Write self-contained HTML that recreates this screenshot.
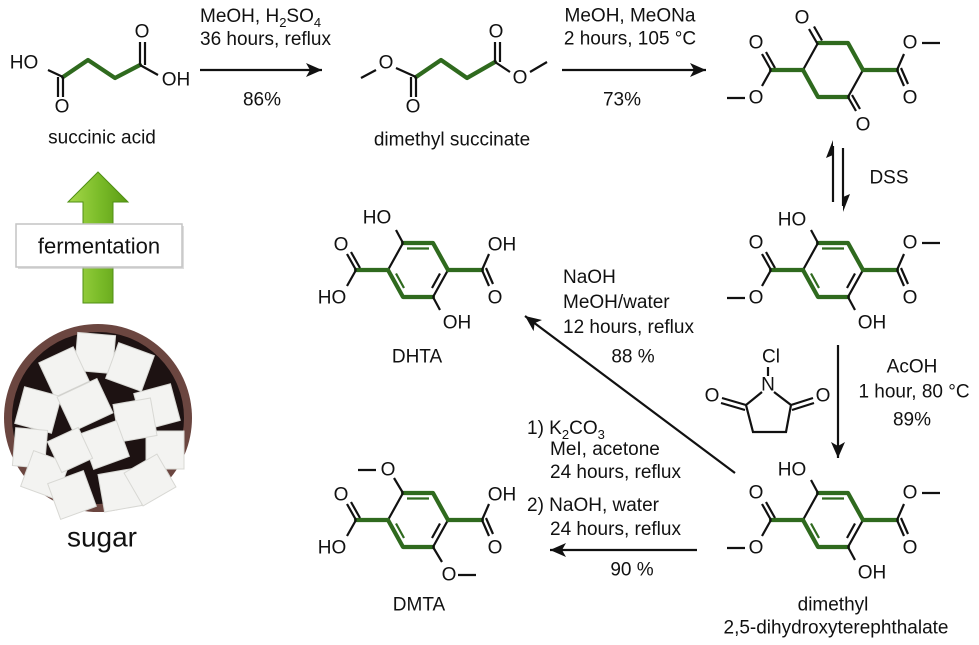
<!DOCTYPE html>
<html><head><meta charset="utf-8"><style>
html,body{margin:0;padding:0;background:#fff;}
svg{display:block;}
text{font-family:"Liberation Sans",Arial,sans-serif;font-size:19px;fill:#111;}
.a{text-anchor:middle;dominant-baseline:central;}
.k{stroke:#111;stroke-width:2.2;fill:none;stroke-linecap:butt;}
.g{stroke:#2f6a1e;stroke-width:4.2;fill:none;stroke-linecap:round;stroke-linejoin:round;}
.gi{stroke:#2f6a1e;stroke-width:2.2;fill:none;}
.cube{fill:#f3f3f1;stroke:#d8d8d4;stroke-width:1;}
</style></head><body>
<svg width="979" height="645" viewBox="0 0 979 645" xmlns="http://www.w3.org/2000/svg">
<defs>
<marker id="ah" markerWidth="18" markerHeight="14" refX="16" refY="7" orient="auto" markerUnits="userSpaceOnUse">
<path d="M0,0 L16,7 L0,14 L4,7 Z" fill="#111"/></marker>
<linearGradient id="gg" x1="0" x2="1" y1="0" y2="0">
<stop offset="0" stop-color="#a6d84a"/><stop offset="0.5" stop-color="#7cbd2a"/><stop offset="1" stop-color="#5b9c14"/></linearGradient>
<g id="ring">
<path class="g" d="M-15,-27 L15,-27 L30,0 M-30,0 L-15,27 L15,27"/>
<path class="k" d="M-30,0 L-15,-27 M30,0 L15,27"/>
</g>
<g id="arom">
<use href="#ring"/>
<path class="gi" d="M-11,-21.5 L11,-21.5 M-22,3.5 L-14,18"/>
<path class="k" d="M22,3.5 L14,18"/>
</g>
<g id="esters">
<path class="g" d="M-30,0 L-62,0 M30,0 L64,0"/>
<path class="k" d="M-62,0 L-71,-16 M-58,-2 L-67,-18 M-62,0 L-71,16 M-106,28 L-88,28 M64,0 L71,16 M68,-2 L75,14 M64,0 L71,-16 M89,-27 L107,-27"/>
<text class="a" x="-77" y="-27">O</text><text class="a" x="-77" y="28">O</text>
<text class="a" x="77" y="28">O</text><text class="a" x="77" y="-27">O</text>
</g>
<g id="hq">
<use href="#arom"/><use href="#esters"/>
<path class="k" d="M-15,-27 L-22,-40 M15,27 L22,40"/>
<text class="a" x="-41" y="-50">HO</text><text class="a" x="39" y="53">OH</text>
</g>
<g id="acids">
<use href="#arom"/>
<path class="g" d="M-30,0 L-62,0 M30,0 L64,0"/>
<path class="k" d="M-62,0 L-71,-16 M-58,-2 L-67,-18 M-62,0 L-71,16 M64,0 L71,16 M68,-2 L75,14 M64,0 L71,-16"/>
<text class="a" x="-77" y="-25">O</text><text class="a" x="-86" y="28">HO</text>
<text class="a" x="77" y="28">O</text><text class="a" x="84" y="-25">OH</text>
</g>
</defs>

<!-- succinic acid -->
<path class="g" d="M63,77 L88,60 L115,78 L140,65"/>
<path class="k" d="M63,77 L48,70 M63,77 L63,97 M58,77 L58,97 M140,65 L140,42 M145,65 L145,42 M140,65 L158,75"/>
<text class="a" x="24" y="63">HO</text><text class="a" x="62" y="107">O</text>
<text class="a" x="142" y="32">O</text><text class="a" x="176" y="80">OH</text>
<text class="a" x="102" y="138">succinic acid</text>

<line class="k" x1="200" y1="70" x2="322" y2="70" marker-end="url(#ah)"/>
<text x="200" y="22">MeOH, H<tspan font-size="13" dy="5">2</tspan><tspan dy="-5">SO</tspan><tspan font-size="13" dy="5">4</tspan></text>
<text x="200" y="45">36 hours, reflux</text>
<text class="a" x="262" y="100">86%</text>

<!-- dimethyl succinate -->
<path class="g" d="M416,77 L441,60 L467,78 L495,62"/>
<path class="k" d="M361,78 L376,70 M396,68 L416,77 M416,77 L416,97 M411,77 L411,97 M495,62 L495,42 M500,62 L500,42 M495,62 L510,72 M530,72 L547,62"/>
<text class="a" x="386" y="63">O</text><text class="a" x="413" y="107">O</text>
<text class="a" x="496" y="32">O</text><text class="a" x="520" y="78">O</text>
<text class="a" x="452" y="140">dimethyl succinate</text>

<line class="k" x1="562" y1="70" x2="706" y2="70" marker-end="url(#ah)"/>
<text class="a" x="630" y="16">MeOH, MeONa</text>
<text class="a" x="630" y="39">2 hours, 105 °C</text>
<text class="a" x="622" y="100">73%</text>

<!-- diketone -->
<g transform="translate(833,70)">
<use href="#ring"/><use href="#esters"/>
<path class="k" d="M-16,-27 L-24,-41 M-11,-29.5 L-19,-43.5 M15,27 L23,41 M19,25 L27,39"/>
<text class="a" x="-31" y="-52">O</text><text class="a" x="30" y="55">O</text>
</g>

<!-- equilibrium -->
<path class="k" d="M833,202 L833,146"/><path d="M833,140 L826,158 L833,155 Z" fill="#111"/>
<path class="k" d="M843,148 L843,206"/><path d="M843,212 L850,194 L843,197 Z" fill="#111"/>
<text class="a" x="889" y="178">DSS</text>

<g transform="translate(833,270)"><use href="#hq"/></g>
<g transform="translate(833,520)"><use href="#hq"/></g>
<text class="a" x="833" y="605">dimethyl</text>
<text class="a" x="836" y="628">2,5-dihydroxyterephthalate</text>

<!-- down arrow -->
<line class="k" x1="838" y1="345" x2="838" y2="458" marker-end="url(#ah)"/>
<text class="a" x="912" y="367">AcOH</text>
<text class="a" x="914" y="392">1 hour, 80 °C</text>
<text class="a" x="912" y="420">89%</text>

<!-- NCS -->
<path class="k" d="M762,392 L746,405 L753,432 L786,432 L791,405 L774,392 M768,367 L768,376 M746,405 L722,398 M745,410 L721,403 M791,405 L813,398 M792,410 L814,403"/>
<text class="a" x="771" y="357">Cl</text><text class="a" x="768" y="385">N</text>
<text class="a" x="712" y="396">O</text><text class="a" x="823" y="396">O</text>

<!-- DHTA -->
<g transform="translate(418,270)">
<use href="#acids"/>
<path class="k" d="M-15,-27 L-22,-40 M15,27 L22,40"/>
<text class="a" x="-41" y="-52">HO</text><text class="a" x="39" y="53">OH</text>
</g>
<text class="a" x="417" y="357">DHTA</text>

<line class="k" x1="735" y1="473" x2="525" y2="316" marker-end="url(#ah)"/>
<text x="563" y="283">NaOH</text>
<text x="563" y="308">MeOH/water</text>
<text x="563" y="333">12 hours, reflux</text>
<text class="a" x="633" y="357">88 %</text>

<!-- DMTA -->
<g transform="translate(418,520)">
<use href="#acids"/>
<path class="k" d="M-15,-27 L-24,-42 M15,27 L24,42 M-60,-50 L-42,-50 M40,55 L58,55"/>
<text class="a" x="-30" y="-50">O</text><text class="a" x="31" y="55">O</text>
</g>
<text class="a" x="419" y="605">DMTA</text>

<line class="k" x1="697" y1="550" x2="550" y2="550" marker-end="url(#ah)"/>
<text x="527" y="434">1) K<tspan font-size="13" dy="5">2</tspan><tspan dy="-5">CO</tspan><tspan font-size="13" dy="5">3</tspan></text>
<text x="550" y="455">MeI, acetone</text>
<text x="550" y="478">24 hours, reflux</text>
<text x="527" y="511">2) NaOH, water</text>
<text x="550" y="535">24 hours, reflux</text>
<text class="a" x="632" y="570">90 %</text>

<!-- green arrow -->
<polygon points="98,172 128,202 113,202 113,303 83,303 83,202 68,202" fill="url(#gg)" stroke="#4f8f14" stroke-width="1"/>
<rect x="18" y="226" width="166" height="43" fill="#bbb" opacity="0.5"/>
<rect x="16" y="224" width="166" height="43" fill="#fff" stroke="#c4c4c4" stroke-width="1.5"/>
<text class="a" x="99" y="246" style="font-size:22px">fermentation</text>

<!-- sugar bowl -->
<circle cx="98" cy="418" r="94" fill="#6b4640"/>
<circle cx="98" cy="418" r="86" fill="#1d1212"/>
<g>
<rect class="cube" x="-19" y="-19" width="38" height="38" transform="translate(95,353) rotate(5)"/>
<rect class="cube" x="-19" y="-19" width="38" height="38" transform="translate(130,367) rotate(20)"/>
<rect class="cube" x="-19" y="-19" width="38" height="38" transform="translate(64,372) rotate(-25)"/>
<rect class="cube" x="-19" y="-19" width="38" height="38" transform="translate(38,410) rotate(15)"/>
<rect class="cube" x="-19" y="-19" width="38" height="38" transform="translate(157,407) rotate(-15)"/>
<rect class="cube" x="-16" y="-19" width="32" height="38" transform="translate(30,448) rotate(5)"/>
<rect class="cube" x="-19" y="-19" width="38" height="38" transform="translate(165,450) rotate(0)"/>
<rect class="cube" x="-19" y="-19" width="38" height="38" transform="translate(45,475) rotate(20)"/>
<rect class="cube" x="-19" y="-19" width="38" height="38" transform="translate(72,495) rotate(-20)"/>
<rect class="cube" x="-19" y="-19" width="38" height="38" transform="translate(120,490) rotate(-10)"/>
<rect class="cube" x="-19" y="-19" width="38" height="38" transform="translate(150,480) rotate(-30)"/>
<rect class="cube" x="-19" y="-19" width="38" height="38" transform="translate(135,420) rotate(-10)"/>
<rect class="cube" x="-22" y="-19" width="44" height="38" transform="translate(85,405) rotate(-25)"/>
<rect class="cube" x="-19" y="-19" width="38" height="38" transform="translate(105,445) rotate(-20)"/>
<rect class="cube" x="-17" y="-17" width="34" height="34" transform="translate(70,450) rotate(-25)"/>
</g>
<text class="a" x="102" y="537" style="font-size:28px">sugar</text>
</svg>
</body></html>
